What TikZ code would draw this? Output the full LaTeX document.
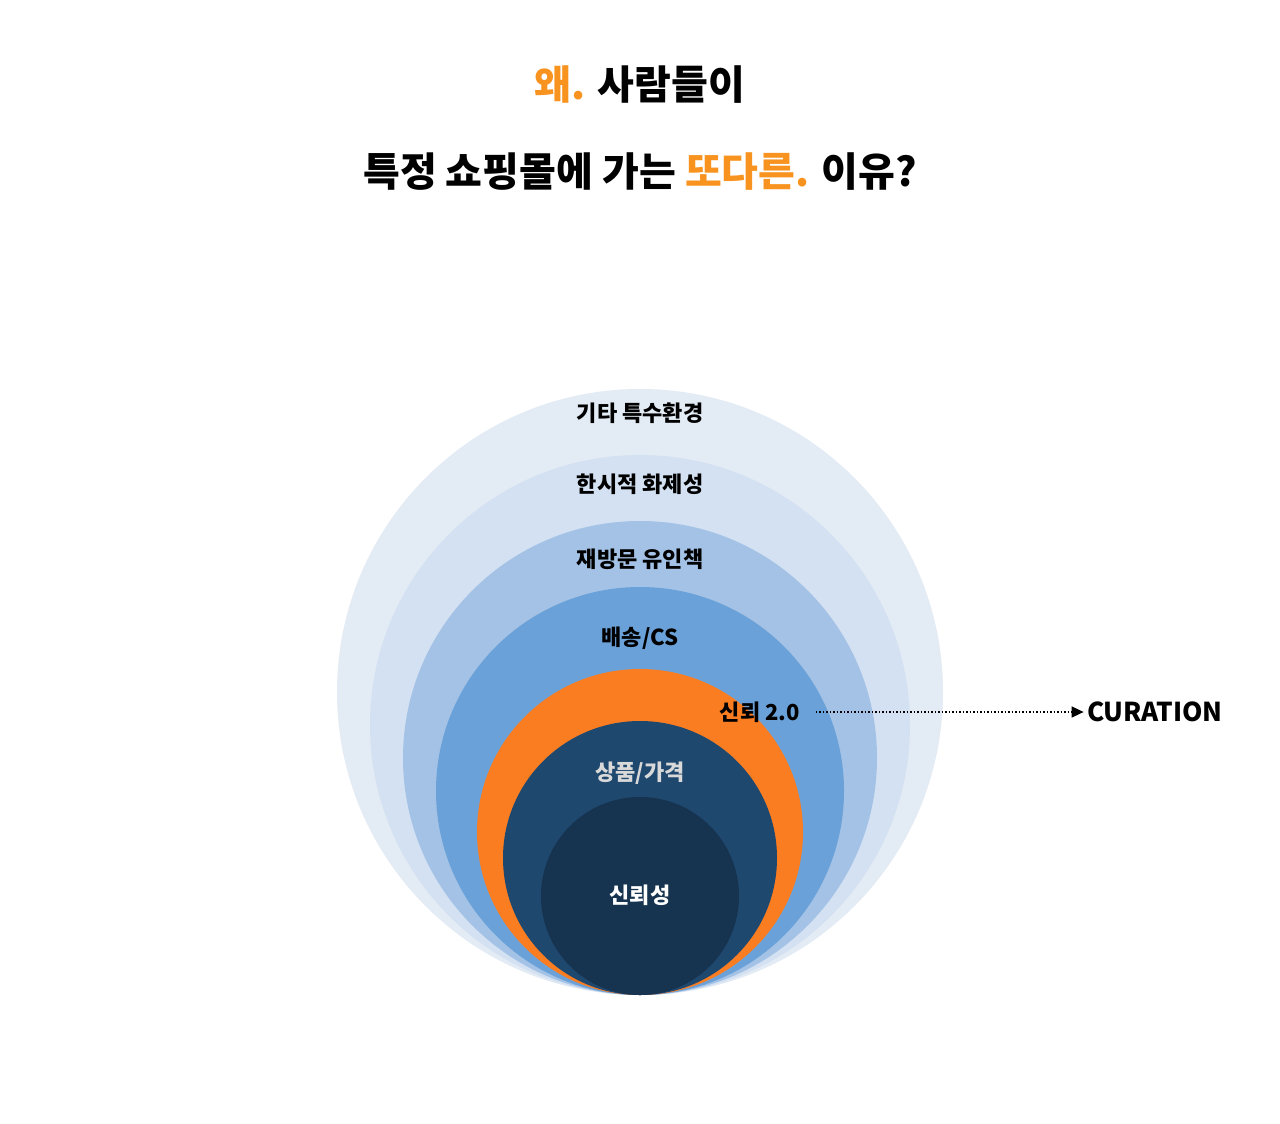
\documentclass[tikz,border=0pt]{standalone}
\usepackage{fontspec}
\setmainfont{Noto Sans CJK KR}[BoldFont=* Black]
\newfontfamily\latinf{Noto Sans CJK KR}[BoldFont=* Black]
\usetikzlibrary{arrows.meta}
\definecolor{c1}{HTML}{E3EBF4}
\definecolor{c2}{HTML}{D3E1F2}
\definecolor{c3}{HTML}{A3C2E6}
\definecolor{c4}{HTML}{6AA1D8}
\definecolor{c5}{HTML}{FB7D21}
\definecolor{c6}{HTML}{1F486F}
\definecolor{c7}{HTML}{16334F}
\definecolor{tor}{HTML}{F7931E}
\tikzset{lab/.style={font=\bfseries\fontsize{22}{26}\selectfont, text=black},
 ttl/.style={font=\bfseries\fontsize{40}{46}\selectfont}}
\begin{document}
\begin{tikzpicture}[x=1pt,y=-1pt]
\useasboundingbox[fill=white] (0,0) rectangle (1280,1124);
\foreach \r/\c in {303/c1,270/c2,237/c3,204/c4,163/c5,137/c6,99/c7}
  \fill[\c] (640,995-\r) circle (\r);
\node[ttl] (t1) at (640,85) {\textcolor{tor}{왜.} 사람들이};
\node[ttl] (t2) at (640,172) {특정 쇼핑몰에 가는 \textcolor{tor}{또다른.} 이유?};
\node[lab] (a) at (640,413) {기타 특수환경};
\node[lab] (b) at (640,484) {한시적 화제성};
\node[lab] (c) at (640,559) {재방문 유인책};
\node[lab] (d) at (640,638) {배송/CS};
\node[lab] (e) at (760,712) {신뢰 2.0};
\node[lab,text=gray!30] (f) at (640,773) {상품/가격};
\node[lab,text=white] (g) at (640,895) {신뢰성};
\node[font=\bfseries\fontsize{26}{30}\selectfont] (h) at (1155,712) {CURATION};
\draw[dotted,line width=1.5pt,-{Triangle[length=12pt,width=11pt]}] (e.east)++(12,0) -- (h.west);
\end{tikzpicture}
\end{document}
